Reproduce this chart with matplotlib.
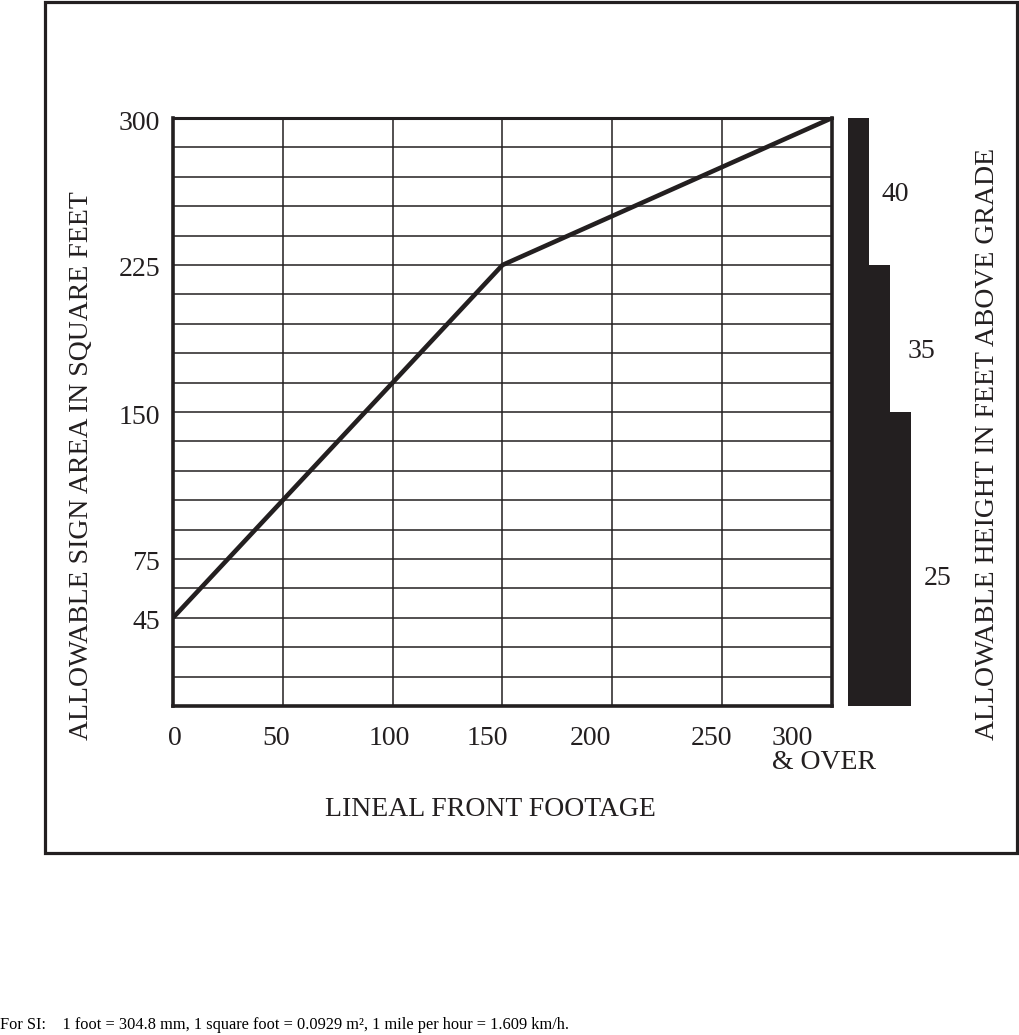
import matplotlib
matplotlib.use('Agg')
import matplotlib.pyplot as plt
from matplotlib.patches import Rectangle
from matplotlib.transforms import ScaledTranslation

plt.rcParams['font.family'] = ['Liberation Serif', 'DejaVu Serif']

# sign area line (lineal front footage -> allowable area, sq ft)
footage = [0, 150, 300]
area = [45, 225, 300]

# x tick labels as printed under the grid
x_labels = ['0', '50', '100', '150', '200', '250']
x_label_pos = [1, 47, 98.5, 143, 190, 245]
y_labels = [45, 75, 150, 225, 300]

# allowable height steps: top of each step on the area scale
height_tops = [300, 225, 150]
height_labels = ['40', '35', '25']
height_label_x = [2.25, 3.5, 4.25]
height_label_y = [261, 181, 65]

ink = '#231f20'
W, H = 1020, 1035
fs = 20

fig = plt.figure(figsize=(W / 100, H / 100), dpi=100)

# outer frame
fig.patches.append(Rectangle((45 / W, 1 - 853 / H), (1017 - 45) / W, (853 - 1.5) / H,
                             transform=fig.transFigure, fill=False,
                             edgecolor=ink, linewidth=2.3))

ax = fig.add_axes([173 / W, 1 - 706 / H, (832 - 173) / W, (706 - 118) / H])
ax.plot(footage, area, color=ink, linewidth=3.3, solid_capstyle='butt', zorder=3)
ax.set_xlim(0, 300)
ax.set_ylim(0, 300)

ax.set_xticks(range(0, 301, 50))
ax.set_xticklabels([])
ax.set_yticks(range(0, 301, 15))
ax.set_yticklabels([])
ax.tick_params(which='both', length=0)
ax.grid(color=ink, linewidth=1.1)
for s in ax.spines.values():
    s.set_linewidth(2.6)
    s.set_color(ink)
ax.spines['top'].set_linewidth(2.2)

# y labels sit a little below their grid line, as printed
ylab_tr = ax.get_yaxis_transform() + ScaledTranslation(-0.13, -0.05, fig.dpi_scale_trans)
for v in y_labels:
    ax.text(0, v, str(v), transform=ylab_tr, ha='right', va='center',
            fontsize=fs, color=ink)

for lab, xp in zip(x_labels, x_label_pos):
    ax.text(xp, -10, lab, ha='center', va='top', fontsize=fs, color=ink)
ax.text(272.5, -10, '300\n& OVER', ha='left', va='top', fontsize=fs,
        color=ink, linespacing=0.95)

# height steps to the right
ax2 = fig.add_axes([848 / W, 1 - 706 / H, (911 - 848) / W, (706 - 118) / H])
ax2.bar(range(len(height_tops)), height_tops, width=1.0, align='edge',
        color=ink, linewidth=0)
ax2.set_xlim(0, 3)
ax2.set_ylim(0, 300)
ax2.axis('off')
for lab, xp, yp in zip(height_labels, height_label_x, height_label_y):
    ax2.text(xp, yp, lab, ha='center', va='center', fontsize=fs,
             color=ink, clip_on=False)

fig.text(82 / W, 1 - 466 / H, 'ALLOWABLE SIGN AREA IN SQUARE FEET', rotation=90,
         ha='center', va='center', fontsize=fs, color=ink)
fig.text(988 / W, 1 - 444 / H, 'ALLOWABLE HEIGHT IN FEET ABOVE GRADE', rotation=90,
         ha='center', va='center', fontsize=fs, color=ink)
fig.text(490 / W, 1 - 809 / H, 'LINEAL FRONT FOOTAGE', ha='center', va='center',
         fontsize=fs, color=ink)

fig.text(0.0, 1 - 1025 / H,
         'For SI:    1 foot = 304.8 mm, 1 square foot = 0.0929 m\u00b2, '
         '1 mile per hour = 1.609 km/h.',
         ha='left', va='center', fontsize=11.8, color='black')

fig.savefig('out.png', dpi=100)
